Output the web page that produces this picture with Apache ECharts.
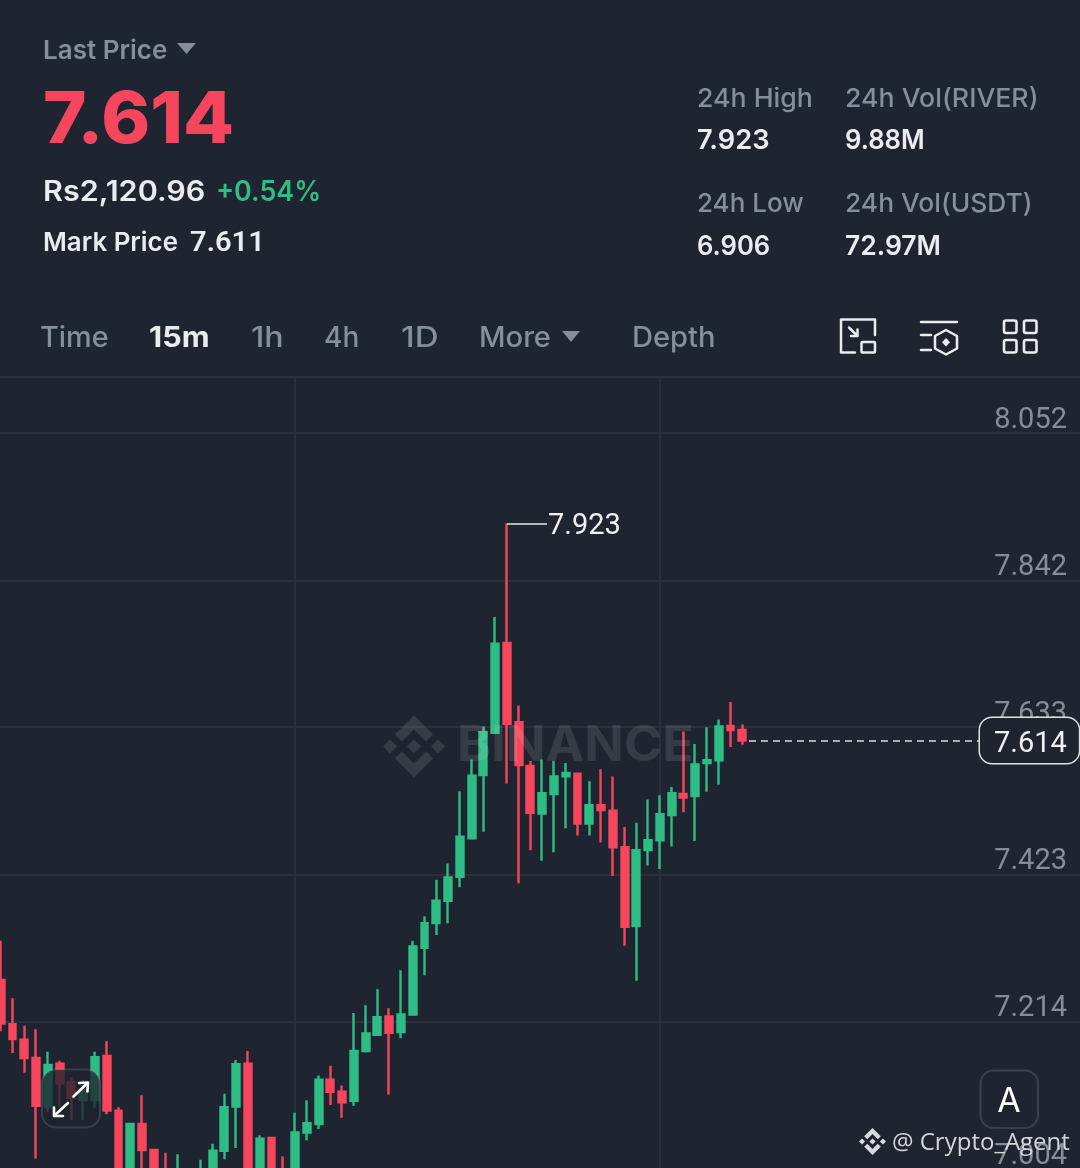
<!DOCTYPE html>
<html>
<head>
<meta charset="utf-8">
<style>html,body{margin:0;padding:0;background:#1e2430;overflow:hidden}#w{width:1080px;height:1168px;overflow:hidden;position:relative}#c{width:1111px;height:1250px;position:absolute;left:-11px;top:0}</style>
<script src="https://cdn.jsdelivr.net/npm/echarts@6/dist/echarts.min.js"></script>
</head>
<body>
<div id="w"><div id="c"></div></div>
<script>
const opens = [7.273,7.210,7.188,7.162,7.092,7.154,7.128,7.102,7.102,7.165,7.087,6.974,7.068,7.031,7.000,6.974,6.971,6.974,6.981,7.030,7.093,7.154,6.974,7.048,6.995,6.981,7.056,7.068,7.131,7.114,7.101,7.172,7.195,7.221,7.199,7.224,7.319,7.354,7.386,7.420,7.475,7.565,7.625,7.753,7.640,7.578,7.510,7.538,7.563,7.567,7.496,7.522,7.514,7.462,7.350,7.458,7.472,7.508,7.538,7.535,7.582,7.586,7.635,7.629];
const closes = [7.211,7.189,7.162,7.094,7.152,7.126,7.105,7.117,7.163,7.087,6.974,7.068,7.031,6.981,6.974,7.000,6.988,6.995,7.030,7.092,7.153,6.974,7.047,6.981,6.974,7.056,7.069,7.131,7.114,7.099,7.172,7.197,7.220,7.198,7.224,7.321,7.354,7.386,7.419,7.477,7.564,7.626,7.752,7.638,7.579,7.511,7.539,7.563,7.568,7.496,7.522,7.515,7.462,7.349,7.458,7.472,7.509,7.539,7.533,7.580,7.586,7.634,7.629,7.614];
const lows = [7.200,7.169,7.141,7.019,7.085,7.092,7.074,7.074,7.091,7.082,6.967,6.971,6.988,6.974,6.967,6.967,6.960,6.967,6.974,7.018,7.034,6.967,6.967,6.974,6.967,6.974,7.045,7.061,7.095,7.077,7.094,7.170,7.195,7.110,7.190,7.223,7.280,7.337,7.354,7.405,7.475,7.484,7.625,7.553,7.411,7.458,7.443,7.455,7.489,7.479,7.479,7.469,7.421,7.322,7.272,7.436,7.431,7.463,7.512,7.471,7.541,7.551,7.605,7.608];
const highs = [7.329,7.247,7.208,7.203,7.171,7.158,7.135,7.131,7.171,7.186,7.092,7.068,7.109,7.031,7.027,7.025,7.000,7.017,7.040,7.111,7.159,7.172,7.052,7.048,7.022,7.084,7.102,7.137,7.151,7.123,7.226,7.237,7.260,7.233,7.287,7.329,7.364,7.416,7.439,7.542,7.587,7.634,7.790,7.923,7.664,7.585,7.587,7.585,7.582,7.567,7.556,7.573,7.563,7.491,7.497,7.530,7.536,7.548,7.627,7.609,7.633,7.644,7.669,7.637];
const tickValues = [7.004,7.214,7.423,7.633,7.842,8.052];
const highPrice = 7.923, highIndex = 44;
const lastPrice = 7.614;
const gridCandles = [26, 57];
const leadSlots = 1, emptySlots = 29;
const OFFSET = 11; // the chart canvas sits this far left of the page so its lines reach the edge

const categories = [];
for (let i = 0; i < leadSlots + opens.length + emptySlots; i++) categories.push(String(i));
const candleData = [['-','-','-','-']].concat(opens.map((o, i) => [o, closes[i], lows[i], highs[i]]));

const BG = '#1e2430', GRAY = '#848e9c', WHITE = '#eaecef', RED = '#f6465d', GREEN = '#2ebd85';
const FONT = 'Inter, "Noto Sans", sans-serif', NUM = 'Roboto, Inter, sans-serif';

function text(t, x, y, size, weight, fill, sx, family) {
  return { type: 'text', x, y, z: 20, silent: true, scaleX: sx || 1,
    style: { text: t, fill, fontSize: size, fontWeight: weight, fontFamily: family || FONT, align: 'left', verticalAlign: 'middle' } };
}
function poly(points, stroke, w) {
  return { type: 'polyline', z: 30, silent: true, shape: { points },
    style: { stroke, lineWidth: w, fill: null, lineJoin: 'round', lineCap: 'round' } };
}
function tri(points, fill) {
  return { type: 'polygon', z: 30, silent: true, shape: { points }, style: { fill } };
}
function box(x, y, w, h, r, stroke, lw, fill, z) {
  return { type: 'rect', z: z || 30, silent: true, shape: { x, y, width: w, height: h, r },
    style: { stroke, lineWidth: lw, fill: fill || null } };
}
const LOGO = [
  [[38.73,53.2],[63.31,28.62],[87.9,53.21],[102.2,38.91],[63.31,0],[24.43,38.9]],
  [[0,63.31],[14.3,49.01],[28.6,63.31],[14.3,77.61]],
  [[38.73,73.41],[63.31,97.99],[87.9,73.4],[102.2,87.7],[63.31,126.61],[24.43,87.71]],
  [[98.01,63.31],[112.31,49.01],[126.61,63.31],[112.31,77.61]],
  [[77.82,63.31],[63.31,77.82],[48.8,63.31],[63.31,48.8]]
];
function logo(cx, cy, size, fill, z) {
  const k = size / 126.61;
  return LOGO.map(p => ({ type: 'polygon', z, silent: true,
    shape: { points: p.map(q => [cx + (q[0] - 63.31) * k, cy + (q[1] - 63.31) * k]) }, style: { fill } }));
}

const graphicEls = [
  { type: 'rect', z: 1, silent: true, shape: { x: -20, y: 376, width: 1120, height: 2 }, style: { fill: '#2d333e' } },
  text('Last Price', 43, 51, 26, 600, GRAY),
  tri([[177,43],[196,43],[186.5,54]], GRAY),
  text('7.614', 43, 121, 72, 800, RED, 1.03),
  text('Rs2,120.96', 43, 193, 28, 600, WHITE, 1.09),
  text('+0.54%', 216, 193, 28, 600, GREEN, 0.96),
  text('Mark Price', 43, 243, 26, 600, WHITE, 0.995),
  text('7.611', 190, 244, 28, 600, WHITE, 1.04, NUM),
  text('24h High', 697, 99, 26, 500, GRAY, 1.025),
  text('24h Vol(RIVER)', 845, 99, 26, 500, GRAY, 1.025),
  text('7.923', 697, 141, 27, 600, WHITE, 1.01),
  text('9.88M', 845, 141, 27, 600, WHITE, 0.95),
  text('24h Low', 697, 204, 26, 500, GRAY),
  text('24h Vol(USDT)', 845, 204, 26, 500, GRAY, 1.015),
  text('6.906', 697, 247, 27, 600, WHITE, 0.95),
  text('72.97M', 845, 247, 27, 600, WHITE, 0.98),
  text('Time', 40, 339, 28, 500, GRAY, 1.03),
  text('15m', 149, 339, 28, 700, WHITE, 1.09),
  text('1h', 251, 339, 28, 500, GRAY, 1.15),
  text('4h', 324, 339, 28, 500, GRAY),
  text('1D', 401, 339, 28, 500, GRAY, 1.18),
  text('More', 479, 339, 28, 500, GRAY, 1.04),
  tri([[562,331],[580,331],[571,342]], GRAY),
  text('Depth', 632, 339, 28, 500, GRAY, 1.04),
  // expand icon
  poly([[855,352.5],[841,352.5],[841,319.5],[875,319.5],[875,335]], WHITE, 2.5),
  box(861.5, 342, 13.5, 10.5, 1, WHITE, 2.5),
  poly([[849,327.5],[857,335.5]], WHITE, 2.5),
  poly([[857.5,329.5],[857.5,336],[851,336]], WHITE, 2.5),
  // settings icon
  poly([[921,322],[957,322]], WHITE, 2.5),
  poly([[921,335],[931,335]], WHITE, 2.5),
  poly([[921,350],[931,350]], WHITE, 2.5),
  { type: 'polygon', z: 30, silent: true, shape: { points: [[946,330],[957,336],[957,348.5],[946,354.5],[935,348.5],[935,336]] }, style: { stroke: WHITE, lineWidth: 2.5, fill: null, lineJoin: 'round' } },
  tri([[946,338],[950,342.3],[946,346.5],[942,342.3]], WHITE),
  // grid icon
  box(1004, 320.5, 12.5, 12.5, 2, WHITE, 2.6),
  box(1024, 320.5, 12.5, 12.5, 2, WHITE, 2.6),
  box(1004, 340, 12.5, 12.5, 2, WHITE, 2.6),
  box(1024, 340, 12.5, 12.5, 2, WHITE, 2.6),
  // brand watermark in the chart
  ...logo(414, 746.5, 62, 'rgba(255,255,255,0.11)', 15),
  { type: 'text', x: 457, y: 746, z: 15, silent: true, scaleX: 1.06, style: { text: 'BINANCE', fill: 'rgba(255,255,255,0.11)', fontSize: 49, fontWeight: 700, fontFamily: FONT, align: 'left', verticalAlign: 'middle' } },
  // expand button
  box(42, 1069.5, 58, 58, 14, 'rgba(255,255,255,0.13)', 2, 'rgba(30,36,48,0.78)', 25),
  poly([[73.5,1096.5],[87,1083.5]], '#ffffff', 2.6),
  poly([[79,1083],[88,1082.5],[87.5,1091.5]], '#ffffff', 2.6),
  poly([[68,1103],[54.5,1115.5]], '#ffffff', 2.6),
  poly([[54,1107.5],[54,1116],[63,1116]], '#ffffff', 2.6),
  // A button
  box(980.5, 1070.5, 57.5, 57.5, 13, 'rgba(255,255,255,0.13)', 2, BG, 12),
  { type: 'text', x: 1009, y: 1102, z: 20, silent: true, style: { text: 'A', fill: '#ffffff', fontSize: 34, fontWeight: 400, fontFamily: FONT, align: 'center', verticalAlign: 'middle' } },
  // author credit
  ...logo(872.5, 1141.5, 27, '#d9dbde', 40),
  { type: 'text', x: 892, y: 1143, z: 40, silent: true, style: { text: '@ Crypto_Agent', fill: '#d4d6da', fontSize: 24, fontWeight: 400, fontFamily: '"Open Sans", "Noto Sans", sans-serif', align: 'left', verticalAlign: 'middle' } }
];

const chart = echarts.init(document.getElementById('c'), null, { width: 1111, height: 1250 });
const axisLineColor = '#2f3540';
chart.setOption({
  backgroundColor: BG,
  animation: false,
  grid: { left: 0, top: 378.2, width: 1094.6, height: 863.8 },
  xAxis: {
    type: 'category', data: categories, boundaryGap: false,
    axisLine: { show: false }, axisTick: { show: false }, axisLabel: { show: false }, splitLine: { show: false }
  },
  yAxis: {
    type: 'value', position: 'right', min: 6.9, max: 8.13,
    axisLine: { show: false },
    axisTick: { show: false, customValues: tickValues },
    axisLabel: {
      inside: true, customValues: tickValues, margin: 16.6,
      verticalAlign: 'bottom', formatter: v => '{v|' + v.toFixed(3) + '}', showMinLabel: true, showMaxLabel: true,
      rich: { v: { color: '#858d99', fontSize: 29, lineHeight: 25, fontFamily: NUM, fontWeight: 400 } }
    },
    splitLine: { show: true, lineStyle: { color: axisLineColor, width: 1.5 } }
  },
  series: [
    {
      type: 'line', data: [], z: 1, silent: true,
      markLine: {
        z: 1, silent: true, symbol: 'none', animation: false, label: { show: false },
        lineStyle: { color: axisLineColor, width: 1.5, type: 'solid' },
        data: gridCandles.map(i => ({ xAxis: categories[i] }))
      }
    },
    {
      type: 'candlestick', data: candleData, barWidth: 7.4, silent: true, z: 5, clip: false,
      itemStyle: { color: GREEN, color0: RED, borderColor: GREEN, borderColor0: RED, borderWidth: 2.4 },
      markLine: {
        z: 6, silent: true, symbol: 'none', animation: false,
        data: [
          [
            { xAxis: categories[highIndex], yAxis: highPrice,
              lineStyle: { color: '#e6e8ea', width: 1.5, type: 'solid' },
              label: { show: true, position: 'end', distance: 1, formatter: '{v|' + highPrice.toFixed(3) + '}',
                rich: { v: { color: '#f0f1f3', fontSize: 29, lineHeight: 30, fontFamily: NUM, padding: [7, 0, 0, 0] } } } },
            { x: 547 + OFFSET, yAxis: highPrice }
          ],
          [
            { x: 749 + OFFSET, yAxis: lastPrice,
              lineStyle: { color: '#d8dade', width: 1.5, type: [7, 5] },
              label: { show: true, position: 'end', distance: 0, formatter: '{v|' + lastPrice.toFixed(3) + '}',
                backgroundColor: BG, borderColor: '#dfe1e4', borderWidth: 1.5, borderRadius: 12, padding: [8, 12, 7, 14],
                rich: { v: { color: '#f0f1f3', fontSize: 29, lineHeight: 30, fontFamily: NUM, padding: [8, 0, 0, 0] } } } },
            { x: 980 + OFFSET, yAxis: lastPrice }
          ]
        ]
      }
    }
  ],
  graphic: { elements: [{ type: 'group', x: OFFSET, y: 0, children: graphicEls }] }
});
</script>
</body>
</html>
